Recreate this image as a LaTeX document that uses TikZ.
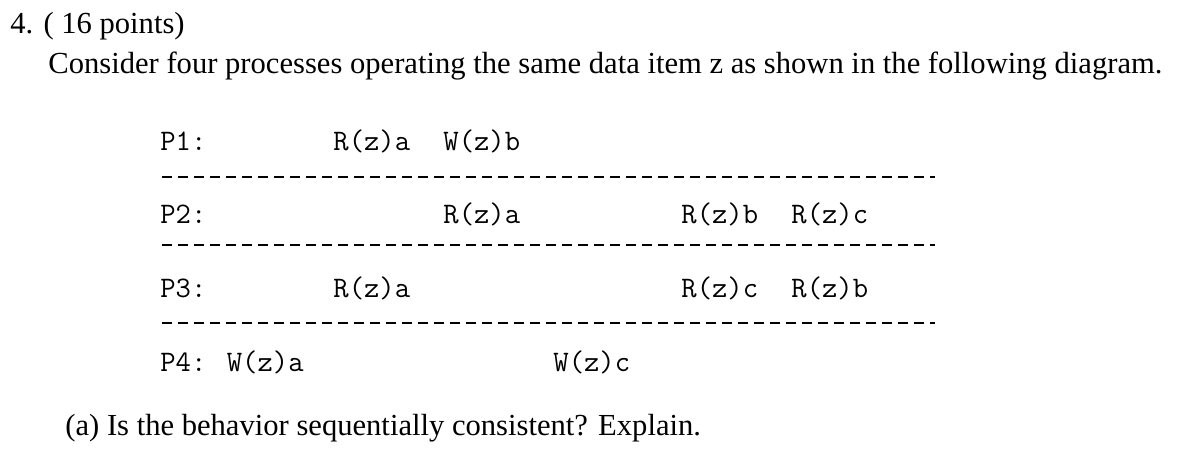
\documentclass[tikz,border=0pt]{standalone}
\usepackage{fontspec}
\setmainfont{Liberation Serif}
\begin{document}
\begin{tikzpicture}[x=0.5pt,y=-0.5pt,
  tx/.style={anchor=base west,inner sep=0pt,font=\fontsize{15.3}{18}\selectfont},
  mono/.style={anchor=base west,inner sep=0pt,font=\fontsize{14.9}{18}\selectfont\ttfamily},
  sep/.style={line width=1.1pt,dash pattern=on 5pt off 3pt}]
\useasboundingbox (0,0) rectangle (1199,473);
\node[tx] (h) at (10,33) {4. ( 16 points)};
\node[tx] (c) at (48,73) {Consider four processes operating the same data item z as shown in the following diagram.};
\node[mono] (p1) at (160,150) {P1:};
\node[mono] (p1a) at (333,150) {R(z)a};
\node[mono] (p1b) at (443,150) {W(z)b};
\node[mono] (p2) at (160,223) {P2:};
\node[mono] (p2a) at (443,223) {R(z)a};
\node[mono] (p2b) at (681,223) {R(z)b};
\node[mono] (p2c) at (791,223) {R(z)c};
\node[mono] (p3) at (160,297) {P3:};
\node[mono] (p3a) at (333,297) {R(z)a};
\node[mono] (p3b) at (681,297) {R(z)c};
\node[mono] (p3c) at (791,297) {R(z)b};
\node[mono] (p4) at (160,371) {P4: W(z)a};
\node[mono] (p4c) at (553,371) {W(z)c};
\node[tx] (q) at (65,435) {(a) Is the behavior sequentially consistent? Explain.};
\foreach \y/\n in {177/a,245/b,323/c}{
  \coordinate (l\n) at (162,\y); \coordinate (r\n) at (935,\y);
  \draw[sep] (l\n) -- (r\n);}
\end{tikzpicture}
\end{document}
